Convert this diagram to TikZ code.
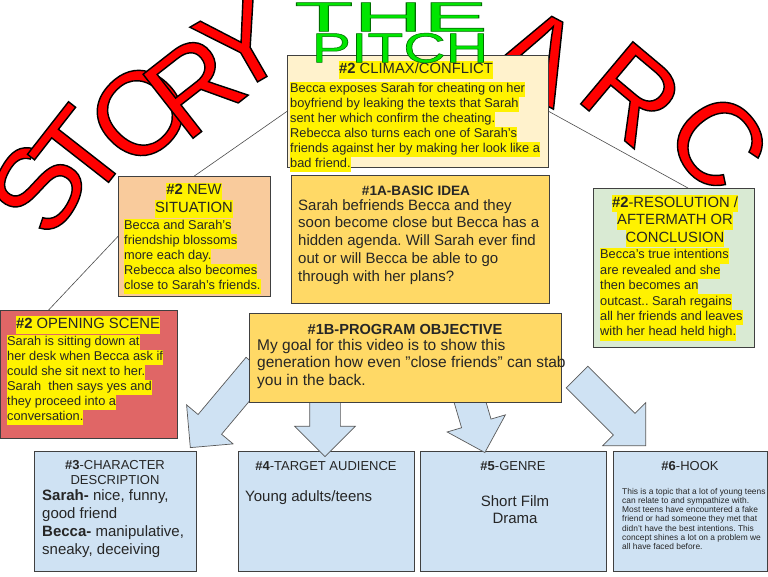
\documentclass[tikz,border=0pt]{standalone}
\usepackage{fontspec}
\setmainfont{Liberation Sans}
\newfontfamily\wordart[FakeBold=1.2]{Liberation Sans}
\usetikzlibrary{shapes.arrows}

\definecolor{cream}{HTML}{FFF2CC}
\definecolor{peach}{HTML}{F9CB9C}
\definecolor{gold}{HTML}{FFD966}
\definecolor{sage}{HTML}{D9EAD3}
\definecolor{rose}{HTML}{E06666}
\definecolor{sky}{HTML}{CFE2F3}
\definecolor{lime}{RGB}{0,230,0}
\definecolor{ink}{HTML}{262626}

\frenchspacing
\newcommand{\fs}[2]{\fontsize{#1}{#2}\selectfont}
\newcommand{\hilite}[1]{{\setlength{\fboxsep}{0pt}\colorbox{yellow}{\strut #1}}}
% fill in the text colour, outline stroked in the second colour
\newcommand{\redglyph}[1]{{\color{red}\special{pdf:code 0 0 0 RG}\wordart #1}}
\newcommand{\greenglyph}[1]{{\color{lime}\special{pdf:code 0 0.43 0 RG}\wordart #1}}

\begin{document}
\begin{tikzpicture}[x=1pt, y=-1pt,
	card/.style={draw=black!75, line width=0.7pt, anchor=north west, inner sep=0pt},
	head/.style={inner sep=0pt, align=center, text=ink, font=\fs{14.8}{17.5}},
	body/.style={inner sep=0pt, anchor=north west, align=left, text=ink, font=\fs{12.8}{15}},
	link/.style={draw=black!70, line width=0.6pt},
	bigarrow/.style={single arrow, draw=black!65, fill=sky, line width=0.7pt, inner xsep=0pt, inner ysep=15pt, single arrow head extend=15pt, anchor=tip},
	arcletter/.style={inner sep=0pt, font=\fs{118}{118}},
	pitchword/.style={inner sep=0pt, font=\fs{42}{42}}]
	\useasboundingbox[fill=white] (0, 0) rectangle (768, 576);

	\foreach \ch/\x/\y/\r in {S/38/188/60, T/80/153/52, O/140/113/45, R/194/86/38, Y/242/44/30}
	\node[arcletter, rotate=\r] (story\ch) at (\x, \y) {\redglyph{\ch}};
	\foreach \ch/\x/\y/\r in {A/538/55/-28, R/632/94/-40, C/718/142/-52}
	\node[arcletter, rotate=\r] (arc\ch) at (\x, \y) {\redglyph{\ch}};

	\node[card, fill=cream, minimum width=261pt, minimum height=112pt] (climax) at (287, 55) {};
	\node[head] (climaxhead) at (416, 70) {\hilite{\textbf{\#2} CLIMAX/CONFLICT}};
	\node[body] (climaxtext) at (290, 82) {\hilite{Becca exposes Sarah for cheating on her}\\ \hilite{boyfriend by leaking the texts that Sarah}\\ \hilite{sent her which confirm the cheating.}\\ \hilite{Rebecca also turns each one of Sarah's}\\ \hilite{friends against her by making her look like a}\\ \hilite{bad friend.}};

	\node[card, fill=peach, minimum width=152pt, minimum height=120pt] (newsit) at (118, 176) {};
	\node[head] (newsithead) at (194, 200) {\hilite{\textbf{\#2} NEW}\\ \hilite{SITUATION}};
	\node[body] (newsittext) at (124, 219) {\hilite{Becca and Sarah's}\\ \hilite{friendship blossoms}\\ \hilite{more each day.}\\ \hilite{Rebecca also becomes}\\ \hilite{close to Sarah's friends.}};

	\node[card, fill=gold, minimum width=258pt, minimum height=128pt] (basic) at (291, 175) {};
	\node[head, font=\fs{13.6}{16}\bfseries] (basichead) at (416, 191) {\#1A-BASIC IDEA};
	\node[body, font=\fs{15}{17.9}] (basictext) at (298, 199) {Sarah befriends Becca and they\\ soon become close but Becca has a\\ hidden agenda. Will Sarah ever find\\ out or will Becca be able to go\\ through with her plans?};

	\node[card, fill=sage, minimum width=161pt, minimum height=159pt] (resolution) at (593, 188) {};
	\node[head] (resolutionhead) at (675, 221) {\hilite{\textbf{\#2}-RESOLUTION /}\\ \hilite{AFTERMATH OR}\\ \hilite{CONCLUSION}};
	\node[body, font=\fs{12.8}{15.4}] (resolutiontext) at (600, 248) {\hilite{Becca's true intentions}\\ \hilite{are revealed and she}\\ \hilite{then becomes an}\\ \hilite{outcast.. Sarah regains}\\ \hilite{all her friends and leaves}\\ \hilite{with her head held high.}};

	\node[card, fill=rose, minimum width=176pt, minimum height=128pt] (opening) at (0.5, 310) {};
	\node[head] (openinghead) at (88, 325) {\hilite{\textbf{\#2} OPENING SCENE}};
	\node[body] (openingtext) at (7, 334.5) {\hilite{Sarah is sitting down at}\\ \hilite{her desk when Becca ask if}\\ \hilite{could she sit next to her.}\\ \hilite{Sarah\ \ then says yes and}\\ \hilite{they proceed into a}\\ \hilite{conversation.}};

	\node[card, fill=sky, minimum width=162pt, minimum height=120pt] (character) at (34, 451) {};
	\node[head, font=\fs{13}{15}] (characterhead) at (115, 473) {\textbf{\#3}-CHARACTER\\ DESCRIPTION};
	\node[body, font=\fs{15}{18}] (charactertext) at (42, 489) {\textbf{Sarah-} nice, funny,\\ good friend\\ \textbf{Becca-} manipulative,\\ sneaky, deceiving};

	\node[card, fill=sky, minimum width=176pt, minimum height=120pt] (audience) at (238, 451) {};
	\node[head, font=\fs{13}{15}] (audiencehead) at (326, 466) {\textbf{\#4}-TARGET AUDIENCE};
	\node[body, font=\fs{15}{18}] (audiencetext) at (245, 490) {Young adults/teens};

	\node[card, fill=sky, minimum width=186pt, minimum height=120pt] (genre) at (420, 451) {};
	\node[head, font=\fs{13}{15}] (genrehead) at (513, 466) {\textbf{\#5}-GENRE};
	\node[head, font=\fs{15}{17}] (genretext) at (515, 510) {Short Film\\ Drama};

	\node[card, fill=sky, minimum width=154pt, minimum height=120pt] (hook) at (613, 451) {};
	\node[head, font=\fs{13}{15}] (hookhead) at (690, 466) {\textbf{\#6}-HOOK};
	\node[body, font=\fs{8.4}{9.2}] (hooktext) at (622, 488) {This is a topic that a lot of young teens\\ can relate to and sympathize with.\\ Most teens have encountered a fake\\ friend or had someone they met that\\ didn't have the best intentions. This\\ concept shines a lot on a problem we\\ all have faced before.};

	\node[bigarrow, rotate=-130, minimum height=105pt] (tocharacter) at (190, 448) {};
	\node[bigarrow, rotate=-90, minimum height=60pt] (toaudience) at (325, 457) {};
	\node[bigarrow, rotate=-73.6, minimum height=58pt] (togenre) at (485, 453) {};
	\node[bigarrow, rotate=-45, minimum height=97pt] (tohook) at (646, 446) {};

	\node[card, fill=gold, minimum width=312pt, minimum height=89pt] (program) at (249, 313) {};
	\node[head, font=\fs{14.6}{17}\bfseries] (programhead) at (405, 329) {\#1B-PROGRAM OBJECTIVE};
	\node[body, font=\fs{15.5}{17.5}] (programtext) at (257, 339) {My goal for this video is to show this\\ generation how even "close friends" can stab\\ you in the back.};

	\draw[link] (climax.west) -- (newsit.north);
	\draw[link] (newsit.west) -- (opening.122);
	\draw[link] (climax.east) -- (resolution.80);

	\node[pitchword, xscale=2.3] (theword) at (391, 17) {\greenglyph{THE}};
	\node[pitchword, xscale=1.4] (pitchword) at (400, 48) {\greenglyph{PITCH}};
\end{tikzpicture}
\end{document}
